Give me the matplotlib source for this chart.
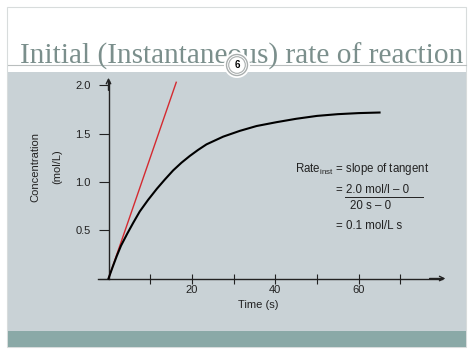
import matplotlib
matplotlib.use("Agg")
import matplotlib.pyplot as plt
from matplotlib.patches import Rectangle, Circle
from matplotlib.lines import Line2D

plt.rcParams['font.family'] = ['Liberation Sans', 'DejaVu Sans']
plt.rcParams['mathtext.fontset'] = 'custom'
plt.rcParams['mathtext.rm'] = 'Liberation Sans'
plt.rcParams['mathtext.it'] = 'Liberation Sans'

W, H = 474, 355

# curve
time_s = [0, 1, 2, 3, 4.5, 5.9, 7.5, 9.5, 11.6, 13.5, 15.5, 17.5, 19.5, 21.5, 23.5, 27.5,
          31.5, 35.5, 40.3, 45, 50, 55, 60, 65]
conc = [0, 0.12, 0.235, 0.34, 0.465, 0.575, 0.695, 0.815, 0.93, 1.025, 1.12, 1.20, 1.27,
        1.333, 1.39, 1.47, 1.53, 1.58, 1.62, 1.655, 1.685, 1.703, 1.714, 1.72]

# initial tangent
tangent_t = [0, 16.3]
tangent_c = [0, 2.04]

yticks = [0, 0.5, 1.0, 1.5, 2.0]
ytick_labels = ["", "0.5", "1.0", "1.5", "2.0"]
xticks = [10, 20, 30, 40, 50, 60, 70]
xtick_labels = ["", "20", "", "40", "", "60", ""]

title = "Initial (Instantaneous) rate of reaction"


def fx(px):
    return px / W


def fy(py):
    return 1 - py / H


fig = plt.figure(figsize=(W / 100, H / 100), dpi=100)
fig.patch.set_facecolor("white")

# slide frame, panel and footer strip (behind the axes)
fig.add_artist(Rectangle((fx(7), fy(347)), fx(466) - fx(7), fy(7) - fy(347),
                         facecolor="white", edgecolor="#d8dcdc", lw=0.8, zorder=-10))
fig.add_artist(Rectangle((fx(8), fy(331)), fx(466) - fx(8), fy(72) - fy(331),
                         facecolor="#c9d2d6", edgecolor="none", zorder=-9))
fig.add_artist(Rectangle((fx(8), fy(347)), fx(466) - fx(8), fy(331) - fy(347),
                         facecolor="#8aa9a7", edgecolor="none", zorder=-9))
fig.add_artist(Line2D([fx(8), fx(466)], [fy(65), fy(65)], color="#b9bebe", lw=0.8, zorder=-8))

fig.text(fx(20), fy(64), title, family="Liberation Serif", fontsize=21.2,
         color="#7b8f8c", ha="left", va="baseline", zorder=1)

# page number badge
ax_badge = fig.add_axes([fx(222), fy(80), 30 / W, 30 / H], zorder=5)
ax_badge.set_xlim(-15, 15)
ax_badge.set_ylim(-15, 15)
ax_badge.set_aspect("equal")
ax_badge.axis("off")
ax_badge.add_patch(Circle((0, 0), 13, facecolor="white", edgecolor="none"))
ax_badge.add_patch(Circle((0, 0), 10.5, facecolor="none", edgecolor="#a9aeae", lw=1.0))
ax_badge.add_patch(Circle((0, 0), 8.3, facecolor="none", edgecolor="#a9aeae", lw=0.8))
ax_badge.text(0, -0.5, "6", fontsize=7, fontweight="bold", ha="center", va="center")

# chart axes: x 0 -> px 108.5 (4.17 px/s), y 0 -> px 278.5 (96.5 px per mol/L)
x0, sx = 108.5, 4.17
y0, sy = 278.5, 96.5
xlim = (-3, 82)
ylim = (-0.05, 2.1)
left = x0 + xlim[0] * sx
right = x0 + xlim[1] * sx
top = y0 - ylim[1] * sy
bottom = y0 - ylim[0] * sy
ax = fig.add_axes([fx(left), fy(bottom), (right - left) / W, (bottom - top) / H], zorder=2)
ax.set_xlim(*xlim)
ax.set_ylim(*ylim)
ax.patch.set_visible(False)

ax.plot(tangent_t, tangent_c, color="#d42a30", lw=1.0, solid_capstyle="butt", zorder=3)
ax.plot(time_s, conc, color="black", lw=1.5, solid_joinstyle="round", zorder=4)

for s in ["top", "right"]:
    ax.spines[s].set_visible(False)
ax.spines["left"].set_position(("data", 0))
ax.spines["bottom"].set_position(("data", 0))
ax.spines["left"].set_bounds(0, 2.05)
ax.spines["bottom"].set_bounds(-2.4, 80)
ax.spines["left"].set_linewidth(1.0)
ax.spines["bottom"].set_linewidth(1.0)
ax.spines["left"].set_color("#222222")
ax.spines["bottom"].set_color("#222222")

ax.annotate("", xy=(0, 2.08), xytext=(0, 1.95),
            arrowprops=dict(arrowstyle="->", color="#222222", lw=1.0, mutation_scale=8,
                            shrinkA=0, shrinkB=0))
ax.annotate("", xy=(80.8, 0), xytext=(77, 0),
            arrowprops=dict(arrowstyle="->", color="#222222", lw=1.0, mutation_scale=8,
                            shrinkA=0, shrinkB=0))

ax.set_yticks(yticks)
ax.set_yticklabels(ytick_labels)
ax.set_xticks(xticks)
ax.set_xticklabels(xtick_labels)
ax.tick_params(axis="y", direction="out", length=7.2, width=0.8, pad=5.5,
               labelsize=8, colors="#222222")
ax.tick_params(axis="x", direction="inout", length=6.5, width=0.8, pad=1.5,
               labelsize=8, colors="#222222")

fig.text(fx(258), fy(305), "Time (s)", fontsize=8, ha="center", va="center", color="#222222")
fig.text(fx(35), fy(166.5), "Concentration", fontsize=8, rotation=90,
         ha="center", va="center", color="#222222")
fig.text(fx(57), fy(166.5), "(mol/L)", fontsize=8, rotation=90,
         ha="center", va="center", color="#222222")

fs = 8.3
fig.text(fx(295), fy(169), r"Rate$_{\mathrm{inst}}$ = slope of tangent", fontsize=fs,
         ha="left", va="center", color="#222222")
fig.text(fx(336), fy(190), "= 2.0 mol/l \u2013 0", fontsize=fs, ha="left", va="center",
         color="#222222")
fig.add_artist(Line2D([fx(345), fx(423)], [fy(196.5), fy(196.5)], color="#222222", lw=0.7))
fig.text(fx(350), fy(206), "20 s \u2013 0", fontsize=fs, ha="left", va="center",
         color="#222222")
fig.text(fx(336), fy(226), "= 0.1 mol/L s", fontsize=fs, ha="left", va="center",
         color="#222222")

fig.savefig("out.png", dpi=100)
